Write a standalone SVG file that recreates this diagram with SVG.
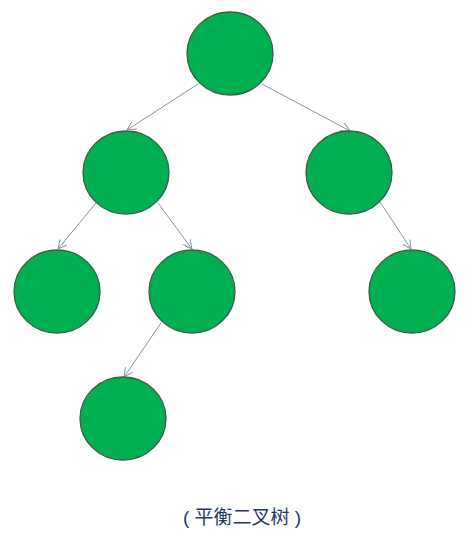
<svg xmlns="http://www.w3.org/2000/svg" width="468" height="537" viewBox="0 0 468 537">
<style>
.n{fill:#00b050;stroke:#3b5a47;stroke-width:1.3}
.e{stroke:#8096ab;stroke-width:1;fill:none;marker-end:url(#a)}
.t{font-family:"Liberation Sans","Noto Sans CJK SC",sans-serif;font-size:19px;fill:#1f3864}
</style>
<defs>
<marker id="a" viewBox="0 0 10 10" refX="10" refY="5" markerWidth="9" markerHeight="9" markerUnits="userSpaceOnUse" orient="auto">
<path d="M0,0 L10,5 L0,10" fill="none" stroke="#8096ab" stroke-width="1.1"/>
</marker>
</defs>
<rect width="468" height="537" fill="#fff"/>
<g id="edges">
<line class="e" x1="198" y1="84" x2="127" y2="130"/>
<line class="e" x1="262" y1="84" x2="350" y2="131"/>
<line class="e" x1="96" y1="203" x2="58" y2="249"/>
<line class="e" x1="158" y1="203" x2="192" y2="249"/>
<line class="e" x1="380" y1="202" x2="411" y2="249"/>
<line class="e" x1="161" y1="323" x2="124" y2="377"/>
</g>
<g id="root"><ellipse class="n" cx="230" cy="53.5" rx="43" ry="41.5"/></g>
<g id="L"><ellipse class="n" cx="126" cy="172.5" rx="43" ry="41.5"/></g>
<g id="R"><ellipse class="n" cx="349" cy="172.5" rx="43" ry="41.5"/></g>
<g id="LL"><ellipse class="n" cx="57" cy="291.5" rx="43" ry="41.5"/></g>
<g id="LR"><ellipse class="n" cx="192" cy="291.5" rx="43" ry="41.5"/></g>
<g id="RR"><ellipse class="n" cx="412" cy="291.5" rx="43" ry="41.5"/></g>
<g id="LRL"><ellipse class="n" cx="123" cy="418.5" rx="43" ry="41.5"/></g>
<text class="t" x="242" y="524" text-anchor="middle">( 平衡二叉树 )</text>
</svg>
